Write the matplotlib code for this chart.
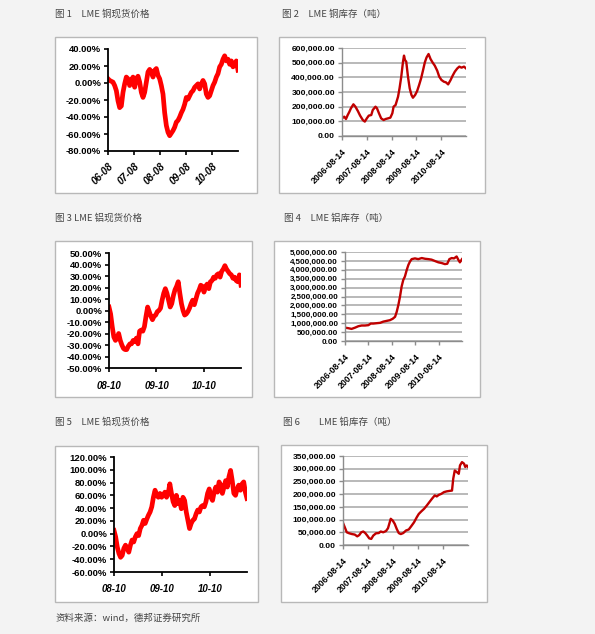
import matplotlib
matplotlib.use('Agg')
import matplotlib.pyplot as plt
from matplotlib.patches import Rectangle
from matplotlib.ticker import FuncFormatter, MultipleLocator
import numpy as np

W, H = 595, 634

# ---- data ----
cu_price = [5, 3, 2, 1, -3, -9, -21, -29, -27, -11, -1, 7, 5, -3, 3, 7, -5, 5, 8, 1,
            -11, -17, -11, 1, 13, 16, 13, 7, 15, 17, 9, 5, -3, -13, -35, -50, -58, -62, -59, -56,
            -52, -46, -44, -40, -35, -31, -25, -17, -19, -15, -11, -9, -5, -3, -1, -7, -1, 3, -1, -13,
            -17, -15, -9, -3, 1, 7, 11, 19, 22, 28, 32, 26, 28, 22, 26, 19, 22, 26, 15]
cu_price_span = 5.0
cu_price_ticks = ['06-08', '07-08', '08-08', '09-08', '10-08']

al_price = [3, -3, -14, -23, -26, -24, -20, -26, -30, -33, -34, -34, -31, -29, -29, -26, -27, -24, -29, -18,
            -17, -18, -14, -5, 3, -1, -5, -8, -5, -4, -1, 0, 2, 9, 15, 19, 15, 9, 3, 6,
            13, 18, 21, 25, 15, 6, 0, -4, -3, -1, 2, 6, 9, 5, 10, 15, 18, 22, 21, 16,
            21, 23, 19, 25, 26, 29, 28, 31, 32, 29, 34, 36, 39, 36, 34, 32, 31, 28, 29, 26,
            25, 31, 22]
al_price_span = 2.78

pb_price = [5, -5, -21, -31, -37, -34, -23, -18, -23, -29, -18, -10, -13, -5, 0, -3, 8, 13, 21, 16,
            23, 29, 34, 42, 57, 68, 60, 57, 63, 57, 60, 65, 57, 63, 78, 63, 50, 44, 60, 47,
            52, 39, 57, 52, 34, 21, 8, 16, 21, 23, 31, 37, 34, 42, 44, 42, 50, 63, 70, 57,
            52, 65, 73, 65, 81, 76, 63, 73, 83, 73, 89, 99, 83, 63, 60, 70, 76, 68, 78, 81,
            65, 55]
pb_price_span = 2.77
price_ticks_short = ['08-10', '09-10', '10-10']

cu_stock_t = [0, 0.09, 0.16, 0.23, 0.30, 0.36, 0.46, 0.54, 0.64, 0.73, 0.84, 0.92, 1.0, 1.08, 1.18,
              1.24, 1.35, 1.41, 1.49, 1.58, 1.68, 1.76, 1.85, 1.95, 2.03, 2.08, 2.16, 2.26, 2.32,
              2.39, 2.46, 2.50, 2.54, 2.59, 2.66, 2.73, 2.80, 2.86, 2.95, 3.03, 3.11, 3.19, 3.27,
              3.34, 3.41, 3.49, 3.57, 3.65, 3.74, 3.84, 3.92, 4.01, 4.11, 4.19, 4.28, 4.38, 4.46,
              4.55, 4.65, 4.73, 4.82, 4.92, 5.0]
cu_stock = [120, 132, 116, 143, 166, 189, 216, 200, 170, 139, 109, 98, 120, 139, 143,
            177, 200, 189, 155, 120, 109, 116, 120, 125, 155, 200, 211, 268, 325,
            405, 507, 548, 518, 507, 405, 325, 280, 261, 280, 307, 348, 393, 450,
            502, 536, 559, 525, 502, 480, 445, 405, 382, 370, 366, 352, 382, 411,
            439, 461, 473, 466, 473, 461]  # thousand tonnes

al_stock_t = [0, 0.14, 0.28, 0.43, 0.57, 0.71, 0.85, 1.0, 1.10, 1.21, 1.35, 1.50, 1.64, 1.78, 1.92,
              2.04, 2.14, 2.21, 2.28, 2.35, 2.42, 2.49, 2.56, 2.64, 2.71, 2.78, 2.85, 2.99, 3.13,
              3.28, 3.42, 3.56, 3.70, 3.85, 3.99, 4.13, 4.27, 4.37, 4.46, 4.56, 4.66, 4.77, 4.84,
              4.91, 5.0]
al_stock = [0.75, 0.72, 0.68, 0.75, 0.83, 0.87, 0.87, 0.89, 0.98, 0.98, 1.00, 1.02, 1.09, 1.13, 1.17,
            1.25, 1.36, 1.64, 2.02, 2.49, 3.06, 3.43, 3.62, 4.00, 4.28, 4.47, 4.60, 4.64, 4.60,
            4.66, 4.62, 4.60, 4.57, 4.49, 4.42, 4.38, 4.32, 4.34, 4.60, 4.66, 4.64, 4.75, 4.57,
            4.42, 4.60]  # million tonnes

pb_stock_t = [0, 0.07, 0.15, 0.25, 0.36, 0.47, 0.57, 0.65, 0.73, 0.81, 0.89, 0.97, 1.05, 1.13, 1.21,
              1.32, 1.43, 1.51, 1.61, 1.72, 1.80, 1.85, 1.91, 1.99, 2.07, 2.15, 2.23, 2.31, 2.41,
              2.52, 2.63, 2.73, 2.84, 2.95, 3.03, 3.13, 3.24, 3.35, 3.45, 3.56, 3.67, 3.75, 3.83,
              3.93, 4.04, 4.15, 4.28, 4.36, 4.41, 4.47, 4.55, 4.63, 4.68, 4.76, 4.84, 4.89, 4.95,
              5.0]
pb_stock = [87, 70, 50, 46, 43, 41, 34, 39, 50, 53, 47, 37, 26, 24, 37,
            46, 47, 53, 50, 55, 66, 83, 103, 96, 83, 63, 47, 43, 47,
            57, 61, 74, 89, 109, 122, 132, 142, 155, 168, 182, 195, 191, 197,
            201, 208, 211, 213, 214, 261, 293, 287, 280, 313, 326, 320, 307, 313,
            307]  # thousand tonnes
stock_ticks = ['2006-08-14', '2007-08-14', '2008-08-14', '2009-08-14', '2010-08-14']

titles = ['图 1　LME 铜现货价格', '图 2　LME 铜库存（吨）', '图 3 LME 铝现货价格',
          '图 4　LME 铝库存（吨）', '图 5　LME 铅现货价格', '图 6　　LME 铅库存（吨）']
source = '资料来源：wind，德邦证券研究所'

# ---- layout ----
fig = plt.figure(figsize=(W / 100, H / 100), dpi=100)
fig.patch.set_facecolor('#f3f3f3')
cjk = ['Noto Sans CJK SC', 'DejaVu Sans']
tick_font = 'Liberation Sans'


def px_rect(l, t, r, b):
    return [l / W, 1 - b / H, (r - l) / W, (b - t) / H]


def add_box(l, t, r, b):
    fig.add_artist(Rectangle((l / W, 1 - b / H), (r - l) / W, (b - t) / H,
                             transform=fig.transFigure, facecolor='white',
                             edgecolor='#b8b8b8', lw=1.0, zorder=0))


def price_chart(rect, vals, span, lo, hi, step, labels, rotate):
    ax = fig.add_axes(px_rect(*rect))
    ax.set_facecolor('none')
    x = np.linspace(0, span, len(vals))
    ax.plot(x, vals, color='#ff0000', lw=3.4, solid_joinstyle='round')
    ax.set_xlim(0, span)
    ax.set_ylim(lo, hi)
    ax.yaxis.set_major_locator(MultipleLocator(step))
    ax.yaxis.set_major_formatter(FuncFormatter(lambda v, p: '%.2f%%' % v))
    ax.set_xticks(range(len(labels)))
    for s in ['top', 'right']:
        ax.spines[s].set_visible(False)
    for s in ['left', 'bottom']:
        ax.spines[s].set_linewidth(1.3)
    ax.tick_params(axis='both', direction='out', length=3, width=1.2, color='black')
    ax.tick_params(axis='y', pad=2)
    for t in ax.get_yticklabels():
        t.set_fontfamily(tick_font)
        t.set_fontweight('bold')
        t.set_fontsize(6.8)
    if rotate:
        ax.set_xticklabels(labels, rotation=45, ha='right', va='top',
                           rotation_mode='anchor', fontfamily=tick_font,
                           fontweight='bold', fontstyle='italic', fontsize=7.2)
        ax.tick_params(axis='x', pad=4)
    else:
        ax.set_xticklabels(labels, fontfamily=tick_font, fontweight='bold',
                           fontstyle='italic', fontsize=7.0)
        ax.tick_params(axis='x', pad=6)
    return ax


def stock_chart(rect, t, vals, scale, top, step, fmt_size):
    ax = fig.add_axes(px_rect(*rect))
    ax.set_facecolor('none')
    ax.plot(t, np.array(vals) * scale, color='#c00000', lw=1.7, solid_joinstyle='round')
    ax.set_xlim(0, 5)
    ax.set_ylim(0, top)
    ax.yaxis.set_major_locator(MultipleLocator(step))
    ax.yaxis.set_major_formatter(FuncFormatter(lambda v, p: '{:,.2f}'.format(v)))
    ax.grid(axis='y', color='#a6a6a6', lw=1.1)
    ax.set_axisbelow(True)
    ax.set_xticks(range(len(stock_ticks)))
    ax.set_xticklabels(stock_ticks, rotation=45, ha='right', va='top',
                       rotation_mode='anchor', fontfamily=tick_font,
                       fontweight='bold', fontsize=6.3)
    for s in ['top', 'right']:
        ax.spines[s].set_visible(False)
    for s in ['left', 'bottom']:
        ax.spines[s].set_color('#8c8c8c')
        ax.spines[s].set_linewidth(1.0)
    ax.tick_params(axis='both', direction='out', length=3, width=1.0, color='#8c8c8c')
    ax.tick_params(axis='y', pad=2)
    ax.tick_params(axis='x', pad=5)
    for tl in ax.get_yticklabels():
        tl.set_fontfamily(tick_font)
        tl.set_fontweight('bold')
        tl.set_fontsize(fmt_size)
    return ax


# boxes
add_box(55, 37, 257, 193)
add_box(279, 37, 485, 193)
add_box(55, 241, 252, 397)
add_box(274, 241, 480, 397)
add_box(55, 446, 258, 602)
add_box(281, 445, 487, 602)

price_chart((108, 49, 238, 151), cu_price, cu_price_span, -80, 40, 20, cu_price_ticks, True)
stock_chart((342, 48, 466, 136), cu_stock_t, cu_stock, 1000, 600000, 100000, 6.1)
price_chart((109, 253, 241, 368), al_price, al_price_span, -50, 50, 10, price_ticks_short, False)
stock_chart((345, 252, 462, 341), al_stock_t, al_stock, 1e6, 5000000, 500000, 5.8)
price_chart((114, 457, 247, 572), pb_price, pb_price_span, -60, 120, 20, price_ticks_short, False)
stock_chart((343, 456, 468, 545), pb_stock_t, pb_stock, 1000, 350000, 50000, 6.1)

# titles
title_pos = [(55, 14), (282, 14), (55, 218), (284, 218), (55, 422), (283, 422)]
for (tx, ty), txt in zip(title_pos, titles):
    fig.text(tx / W, 1 - ty / H, txt, family=cjk, fontsize=6.8, color='#444444',
             ha='left', va='center')
fig.text(55 / W, 1 - 618 / H, source, family=cjk, fontsize=6.8, color='#444444',
         ha='left', va='center')

fig.savefig('out.png', dpi=100, facecolor=fig.get_facecolor())
